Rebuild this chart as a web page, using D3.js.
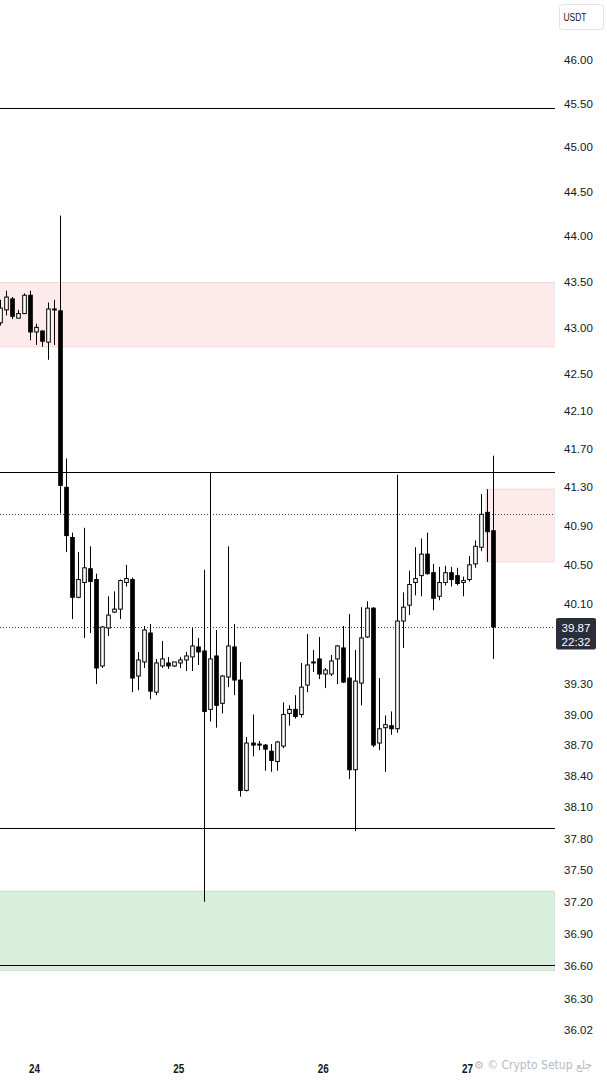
<!DOCTYPE html>
<html>
<head>
<meta charset="utf-8">
<script src="https://cdn.jsdelivr.net/npm/d3@7/dist/d3.min.js"></script>
<style>
  html, body { margin: 0; padding: 0; background: #ffffff; }
  svg { display: block; }
</style>
</head>
<body>
<div id="chart"></div>
<script>
// ---------- DATA ----------
// hourly candles, first candle = 23rd 18:00 UTC
const firstCandle = Date.UTC(2025, 2, 23, 18);
const openP  = [43.05,43.19,43.31,43.10,43.15,43.35,42.95,42.96,42.84,43.20,43.18,41.30,40.78,40.17,40.32,40.46,40.35,39.48,39.86,40.02,40.05,40.32,40.35,39.38,39.52,39.81,39.22,39.48,39.51,39.48,39.51,39.54,39.57,39.67,39.63,39.05,39.58,39.11,39.37,39.67,39.34,38.26,38.72,38.71,38.70,38.64,38.54,38.69,39.01,39.05,39.00,39.29,39.52,39.55,39.40,39.40,39.55,39.66,39.36,38.46,39.31,39.77,40.06,38.72,38.87,38.89,38.86,39.93,40.09,40.32,40.39,40.61,40.42,40.18,40.32,40.42,40.39,40.32,40.35,40.51,40.68,41.04,40.85];
const highP  = [43.30,43.40,43.33,43.19,43.37,43.40,43.04,42.97,43.27,43.30,44.23,41.60,40.83,40.63,40.88,40.69,40.41,39.88,40.18,40.23,40.35,40.50,40.37,39.62,39.88,39.90,39.55,39.73,39.57,39.52,39.57,39.62,39.86,39.76,40.45,41.46,39.84,39.39,40.69,39.90,39.52,38.78,39.00,38.74,38.71,38.71,38.74,39.12,39.09,39.19,39.51,39.80,39.64,39.77,39.46,39.59,39.69,39.88,40.00,39.64,40.07,40.13,40.07,39.36,38.99,39.03,41.43,40.22,40.44,40.68,40.77,40.83,40.51,40.48,40.49,40.48,40.47,40.38,40.59,40.75,41.23,41.28,41.63];
const lowP   = [43.02,43.13,43.09,43.10,43.15,42.86,42.81,42.79,42.65,42.81,41.03,40.63,39.95,40.16,39.76,39.81,39.30,39.46,39.78,40.01,39.95,40.28,39.22,39.24,39.46,39.15,39.19,39.46,39.45,39.47,39.46,39.43,39.43,39.49,37.20,38.93,38.87,39.01,39.27,39.19,38.20,38.25,38.59,38.65,38.45,38.44,38.45,38.67,38.89,38.96,38.97,39.22,39.42,39.35,39.26,39.38,39.30,39.31,38.37,37.87,39.09,39.76,38.68,38.65,38.44,38.80,38.82,39.66,39.99,40.19,40.18,40.40,40.04,40.14,40.29,40.28,40.29,40.18,40.33,40.47,40.64,40.53,39.55];
const closeP = [43.21,43.33,43.12,43.15,43.35,42.95,43.00,42.85,43.20,43.20,41.32,40.80,40.17,40.35,40.47,40.33,39.46,39.87,39.99,40.05,40.34,40.36,39.36,39.54,39.84,39.23,39.51,39.55,39.48,39.52,39.54,39.58,39.68,39.62,39.03,39.55,39.09,39.38,39.68,39.34,38.26,38.72,38.70,38.70,38.66,38.55,38.73,39.00,39.05,38.98,39.27,39.49,39.52,39.40,39.44,39.53,39.68,39.32,38.46,39.33,39.76,40.06,38.70,38.86,38.90,38.86,39.93,40.07,40.30,40.36,40.61,40.41,40.16,40.32,40.42,40.35,40.31,40.34,40.50,40.69,41.02,40.84,39.87];

const priceTicks = [46.00,45.50,45.00,44.50,44.00,43.50,43.00,42.50,42.10,41.70,41.30,40.90,40.50,40.10,39.30,39.00,38.70,38.40,38.10,37.80,37.50,37.20,36.90,36.60,36.30,36.02];
const dayTicks = [Date.UTC(2025,2,24), Date.UTC(2025,2,25), Date.UTC(2025,2,26), Date.UTC(2025,2,27)];

const solidLevels  = [45.45, 41.46, 37.90, 36.61];
const dottedLevels = [41.02];
const supplyZone   = {top: 43.49, bottom: 42.79};
const smallSupply  = {top: 41.28, bottom: 40.53, fromIndex: 81};
const demandZone   = {top: 37.30, bottom: 36.56};
const lastPrice = 39.87, countdown = "22:32";

// ---------- SETUP ----------
const W = 607, H = 1080, plotRight = 555;
const HOUR = 3600 * 1000;
const candles = openP.map((o, i) => ({
  t: new Date(firstCandle + i * HOUR), o, h: highP[i], l: lowP[i], c: closeP[i]
}));

const svg = d3.select("#chart").append("svg")
  .attr("width", W).attr("height", H)
  .style("font-family", "'Liberation Sans', Arial, sans-serif");

const x = d3.scaleUtc()
  .domain([new Date(dayTicks[0]), new Date(dayTicks[3])])
  .range([36, 469]);
const y = d3.scaleLog()
  .domain([36.02, 46])
  .range([1029.6, 60]);

const plot = svg.append("g");
plot.append("clipPath").attr("id", "clip")
  .append("rect").attr("x", 0).attr("y", 0).attr("width", plotRight).attr("height", 1045);
const g = plot.append("g").attr("clip-path", "url(#clip)");

// zones
function zone(z, x0, fill, stroke) {
  g.append("rect")
    .attr("x", x0).attr("y", y(z.top))
    .attr("width", plotRight - x0).attr("height", y(z.bottom) - y(z.top))
    .attr("fill", fill).attr("stroke", stroke).attr("stroke-width", 1);
}
zone(supplyZone, -2, "#fdebec", "#f6d6d8");
zone(smallSupply, x(candles[smallSupply.fromIndex].t) - 1, "#fdebec", "#f6d6d8");
zone(demandZone, -2, "#d9eedc", "#c4e3c8");

// horizontal levels
g.selectAll(".solid").data(solidLevels).join("line")
  .attr("x1", 0).attr("x2", plotRight)
  .attr("y1", d => Math.round(y(d)) + 0.5).attr("y2", d => Math.round(y(d)) + 0.5)
  .attr("stroke", "#000").attr("stroke-width", 1);
g.selectAll(".dotted").data(dottedLevels.concat([lastPrice])).join("line")
  .attr("x1", 0).attr("x2", plotRight)
  .attr("y1", d => Math.round(y(d)) + 0.5).attr("y2", d => Math.round(y(d)) + 0.5)
  .attr("stroke", "#3a3a3a").attr("stroke-width", 1).attr("stroke-dasharray", "1,2");

// candles
const bodyW = 3.6;
const cg = g.selectAll(".candle").data(candles).join("g");
cg.append("line")
  .attr("x1", d => Math.round(x(d.t)) + 0.5).attr("x2", d => Math.round(x(d.t)) + 0.5)
  .attr("y1", d => y(d.h)).attr("y2", d => y(d.l))
  .attr("stroke", "#000").attr("stroke-width", 1);
cg.append("rect")
  .attr("x", d => Math.round(x(d.t)) + 0.5 - bodyW / 2)
  .attr("y", d => y(Math.max(d.o, d.c)))
  .attr("width", bodyW)
  .attr("height", d => Math.max(1, y(Math.min(d.o, d.c)) - y(Math.max(d.o, d.c))))
  .attr("fill", d => d.c >= d.o ? "#ffffff" : "#000000")
  .attr("stroke", "#000").attr("stroke-width", 1);

// price axis
const yAxis = svg.append("g")
  .attr("transform", `translate(${plotRight},0)`)
  .call(d3.axisRight(y).tickValues(priceTicks).tickFormat(d3.format(".2f")).tickSize(0).tickPadding(9));
yAxis.select(".domain").remove();
yAxis.selectAll("text").attr("fill", "#131722").style("font-size", "11.5px")
  .style("font-family", "'Liberation Sans', Arial, sans-serif");

// USDT box
svg.append("rect").attr("x", 559.5).attr("y", 4.5).attr("width", 44).attr("height", 25).attr("rx", 3)
  .attr("fill", "#fff").attr("stroke", "#e0e3eb");
svg.append("text").attr("x", 563.5).attr("y", 21).text("USDT")
  .attr("fill", "#131722").style("font-size", "11px")
  .attr("textLength", 23).attr("lengthAdjust", "spacingAndGlyphs");

// last price label
svg.append("rect").attr("x", 556).attr("y", 618).attr("width", 40).attr("height", 31.5).attr("rx", 2)
  .attr("fill", "#2a2e39");
svg.append("text").attr("x", 576).attr("y", 631.7).attr("text-anchor", "middle")
  .attr("fill", "#fff").style("font-size", "11.5px").text(d3.format(".2f")(lastPrice));
svg.append("text").attr("x", 576).attr("y", 646).attr("text-anchor", "middle")
  .attr("fill", "#fff").style("font-size", "11.5px").text(countdown);

// time axis
const xAxis = svg.append("g")
  .attr("transform", "translate(0,1058)")
  .call(d3.axisBottom(x).tickValues(dayTicks.map(d => new Date(d))).tickFormat(d3.utcFormat("%d")).tickSize(0).tickPadding(6));
xAxis.select(".domain").remove();
xAxis.selectAll("text").attr("fill", "#131722")
  .style("font-size", "12.5px").style("font-weight", "bold")
  .style("font-family", "'Liberation Sans', Arial, sans-serif")
  .attr("dx", "-2")
  .attr("textLength", 11).attr("lengthAdjust", "spacingAndGlyphs");

// watermark
svg.append("text").attr("x", 474).attr("y", 1068.5)
  .attr("fill", "#b8bbc4").style("font-size", "11.5px")
  .style("font-family", "'DejaVu Sans', 'Liberation Sans', sans-serif")
  .attr("textLength", 118).attr("lengthAdjust", "spacingAndGlyphs")
  .text("⚙ © Crypto Setup جلع");
</script>
</body>
</html>
